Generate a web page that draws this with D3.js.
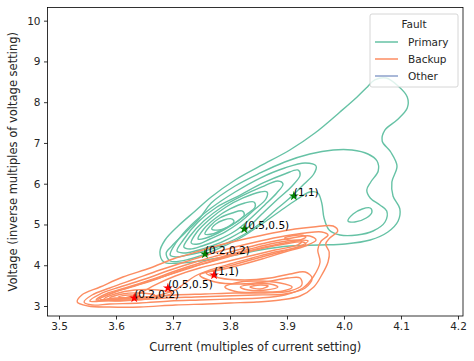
<!DOCTYPE html>
<html><head><meta charset="utf-8">
<script src="https://cdn.jsdelivr.net/npm/d3@7"></script>
<style>body{margin:0;background:#fff}svg{display:block;font-family:"DejaVu Sans",sans-serif}</style>
</head><body><svg id="c" width="474" height="361"></svg>
<script>
// ---- data ----
const xTicks = [3.5,3.6,3.7,3.8,3.9,4.0,4.1,4.2];
const yTicks = [3,4,5,6,7,8,9,10];
const xLabel = "Current (multiples of current setting)";
const yLabel = "Voltage (inverse multiples of voltage setting)";
const legendTitle = "Fault";
const legendNames = ["Primary","Backup","Other"];
const legendColors = ["#66c2a5","#fc8d62","#8da0cb"];

// Primary (green) KDE iso-lines, [current, voltage]
const primaryContours = [
 [[3.677,4.325],[3.684,4.080],[3.712,4.055],[3.747,4.104],[3.800,4.227],[3.853,4.374],[3.905,4.472],[3.958,4.497],[4.002,4.521],[4.046,4.619],[4.077,4.815],[4.095,5.085],[4.098,5.380],[4.086,5.699],[4.084,6.042],[4.093,6.435],[4.082,6.778],[4.067,7.048],[4.072,7.318],[4.093,7.563],[4.111,7.858],[4.111,8.128],[4.095,8.397],[4.074,8.594],[4.054,8.545],[4.039,8.348],[4.023,8.128],[3.993,7.760],[3.949,7.244],[3.905,6.827],[3.853,6.435],[3.809,6.091],[3.767,5.674],[3.739,5.331],[3.709,4.963],[3.686,4.619]],
 [[3.688,4.300],[3.695,4.104],[3.730,4.153],[3.774,4.374],[3.818,4.668],[3.856,5.012],[3.888,5.331],[3.916,5.601],[3.940,5.797],[3.954,5.772],[3.961,5.527],[3.965,5.159],[3.974,4.865],[3.993,4.742],[4.023,4.742],[4.051,4.840],[4.072,5.061],[4.075,5.331],[4.063,5.478],[4.046,5.650],[4.040,5.846],[4.047,6.042],[4.060,6.312],[4.058,6.557],[4.042,6.729],[4.014,6.827],[3.981,6.827],[3.940,6.729],[3.896,6.533],[3.853,6.263],[3.809,5.944],[3.767,5.527],[3.747,5.159],[3.721,4.791],[3.698,4.472]],
 [[4.007,5.085],[4.016,5.257],[4.032,5.380],[4.046,5.404],[4.049,5.306],[4.039,5.159],[4.019,5.061]],
 [[3.695,4.251],[3.705,4.546],[3.732,4.987],[3.767,5.404],[3.809,5.797],[3.853,6.140],[3.896,6.386],[3.932,6.508],[3.951,6.435],[3.947,6.238],[3.930,5.993],[3.909,5.699],[3.884,5.404],[3.856,5.061],[3.826,4.766],[3.791,4.521],[3.756,4.349],[3.726,4.251],[3.705,4.202]],
 [[3.707,4.349],[3.718,4.619],[3.744,5.061],[3.777,5.429],[3.818,5.723],[3.858,6.018],[3.896,6.238],[3.919,6.337],[3.923,6.214],[3.909,5.944],[3.884,5.625],[3.856,5.257],[3.832,4.938],[3.800,4.668],[3.768,4.472],[3.739,4.349],[3.718,4.300]],
 [[3.719,4.447],[3.730,4.717],[3.754,5.085],[3.786,5.429],[3.821,5.699],[3.856,5.920],[3.884,6.067],[3.893,5.993],[3.882,5.772],[3.861,5.478],[3.835,5.134],[3.809,4.840],[3.779,4.619],[3.751,4.472],[3.730,4.398]],
 [[3.732,4.546],[3.742,4.815],[3.765,5.134],[3.793,5.429],[3.823,5.650],[3.853,5.797],[3.865,5.797],[3.863,5.625],[3.844,5.380],[3.818,5.061],[3.791,4.815],[3.765,4.644],[3.744,4.521]],
 [[3.744,4.644],[3.754,4.889],[3.775,5.159],[3.800,5.380],[3.826,5.527],[3.842,5.552],[3.844,5.429],[3.828,5.233],[3.804,4.987],[3.779,4.791],[3.758,4.668]],
 [[3.756,4.766],[3.765,4.963],[3.782,5.159],[3.804,5.282],[3.821,5.331],[3.825,5.233],[3.811,5.061],[3.789,4.889],[3.768,4.766]],
 [[3.768,4.889],[3.775,5.012],[3.789,5.110],[3.804,5.134],[3.807,5.061],[3.796,4.938],[3.781,4.865]]
];

// Backup (orange) KDE iso-lines, [current, voltage]
const backupContours = [
 [[3.532,3.098],[3.540,3.270],[3.572,3.466],[3.612,3.711],[3.660,3.932],[3.700,4.153],[3.747,4.349],[3.782,4.497],[3.826,4.644],[3.875,4.791],[3.914,4.889],[3.946,4.938],[3.981,4.963],[3.989,4.840],[3.975,4.668],[3.968,4.521],[3.974,4.325],[3.972,4.080],[3.961,3.761],[3.947,3.466],[3.923,3.245],[3.888,3.147],[3.847,3.098],[3.800,3.074],[3.760,3.049],[3.704,3.025],[3.642,2.975],[3.589,2.975],[3.551,3.000]],
 [[3.544,3.098],[3.558,3.270],[3.589,3.442],[3.633,3.662],[3.677,3.883],[3.721,4.080],[3.765,4.276],[3.809,4.447],[3.853,4.595],[3.896,4.717],[3.932,4.791],[3.961,4.815],[3.972,4.742],[3.960,4.595],[3.954,4.374],[3.958,4.080],[3.947,3.736],[3.928,3.442],[3.896,3.270],[3.853,3.196],[3.800,3.172],[3.747,3.147],[3.695,3.123],[3.642,3.074],[3.589,3.049],[3.558,3.025]],
 [[3.554,3.123],[3.572,3.294],[3.607,3.466],[3.651,3.662],[3.695,3.883],[3.739,4.080],[3.782,4.251],[3.826,4.423],[3.870,4.570],[3.909,4.668],[3.940,4.717],[3.951,4.619],[3.932,4.472],[3.896,4.325],[3.856,4.153],[3.818,4.006],[3.782,3.883],[3.758,3.810],[3.782,3.687],[3.826,3.638],[3.870,3.687],[3.905,3.785],[3.932,3.834],[3.944,3.687],[3.932,3.442],[3.896,3.294],[3.844,3.270],[3.791,3.245],[3.739,3.221],[3.686,3.196],[3.633,3.147],[3.581,3.123]],
 [[3.565,3.147],[3.586,3.319],[3.616,3.442],[3.660,3.638],[3.704,3.859],[3.747,4.055],[3.791,4.227],[3.835,4.398],[3.879,4.546],[3.918,4.619],[3.937,4.595],[3.923,4.472],[3.888,4.325],[3.849,4.178],[3.811,4.030],[3.774,3.883],[3.747,3.761],[3.774,3.589],[3.818,3.540],[3.861,3.589],[3.902,3.687],[3.923,3.687],[3.926,3.515],[3.905,3.368],[3.861,3.319],[3.809,3.319],[3.756,3.294],[3.704,3.270],[3.651,3.221],[3.598,3.196]],
 [[3.568,3.147],[3.593,3.319],[3.633,3.491],[3.677,3.687],[3.721,3.908],[3.765,4.080],[3.809,4.251],[3.853,4.398],[3.896,4.521],[3.928,4.570],[3.933,4.521],[3.916,4.423],[3.879,4.325],[3.839,4.178],[3.800,4.030],[3.765,3.883],[3.739,3.736],[3.721,3.564],[3.704,3.393],[3.677,3.270],[3.642,3.196],[3.604,3.172]],
 [[3.572,3.172],[3.598,3.343],[3.642,3.540],[3.686,3.736],[3.730,3.932],[3.774,4.129],[3.818,4.300],[3.861,4.447],[3.905,4.570],[3.926,4.595],[3.919,4.497],[3.879,4.374],[3.835,4.227],[3.791,4.080],[3.747,3.932],[3.704,3.736],[3.668,3.515],[3.642,3.319],[3.616,3.196],[3.589,3.147]],
 [[3.579,3.172],[3.598,3.294],[3.633,3.393],[3.674,3.393],[3.698,3.319],[3.677,3.221],[3.633,3.147],[3.598,3.123]],
 [[3.589,3.196],[3.611,3.294],[3.642,3.319],[3.668,3.270],[3.651,3.196],[3.616,3.172]],
 [[3.604,3.221],[3.621,3.270],[3.642,3.245],[3.625,3.196]],
 [[3.791,3.466],[3.818,3.589],[3.853,3.613],[3.888,3.564],[3.909,3.466],[3.893,3.368],[3.853,3.343],[3.814,3.343]],
 [[3.818,3.466],[3.844,3.540],[3.870,3.540],[3.884,3.466],[3.863,3.393],[3.832,3.393]],
 [[3.835,3.466],[3.853,3.515],[3.867,3.491],[3.853,3.417]],
 [[3.896,4.668],[3.923,4.742],[3.933,4.693],[3.914,4.595]]
];

// annotated operating points
const primaryPoints = [[3.756,4.276],[3.825,4.889],[3.912,5.699]];
const backupPoints  = [[3.632,3.196],[3.691,3.442],[3.772,3.761]];
const pointLabels   = ["(0.2,0.2)","(0.5,0.5)","(1,1)"];

// ---- drawing ----
const svg = d3.select("#c");
const m = {l:47.5, r:463, t:7.5, b:316};
const x = d3.scaleLinear().domain([3.4798,4.2088]).range([m.l,m.r]);
const y = d3.scaleLinear().domain([2.7547,10.323]).range([m.b,m.t]);

svg.append("clipPath").attr("id","pc").append("rect")
  .attr("x",m.l).attr("y",m.t).attr("width",m.r-m.l).attr("height",m.b-m.t);
const plot = svg.append("g").attr("clip-path","url(#pc)");
const line = d3.line().x(d=>x(d[0])).y(d=>y(d[1])).curve(d3.curveCatmullRomClosed.alpha(0.5));

plot.append("g").selectAll("path").data(primaryContours).join("path")
  .attr("d",line).attr("fill","none").attr("stroke",legendColors[0]).attr("stroke-width",1.4);
plot.append("g").selectAll("path").data(backupContours).join("path")
  .attr("d",line).attr("fill","none").attr("stroke",legendColors[1]).attr("stroke-width",1.4);

const star = d3.symbol().type(d3.symbolStar).size(30);
function pts(data,color){
  plot.append("g").selectAll("path").data(data).join("path")
    .attr("d",star).attr("transform",d=>`translate(${x(d[0])},${y(d[1])})`).attr("fill",color);
  plot.append("g").selectAll("text").data(data).join("text")
    .attr("x",d=>x(d[0])).attr("y",d=>y(d[1])).attr("font-size",10.5).attr("fill","#000")
    .text((d,i)=>pointLabels[i]);
}
pts(primaryPoints,"#008000");
pts(backupPoints,"#ff0000");

// axes
const xa = svg.append("g").attr("transform",`translate(0,${m.b})`)
  .call(d3.axisBottom(x).tickValues(xTicks).tickFormat(d3.format(".1f")).tickSize(3.5).tickPadding(3.5));
const ya = svg.append("g").attr("transform",`translate(${m.l},0)`)
  .call(d3.axisLeft(y).tickValues(yTicks).tickFormat(d3.format("d")).tickSize(3.5).tickPadding(3.5));
[xa,ya].forEach(a=>{a.select(".domain").remove();
  a.selectAll("text").attr("font-size",10.5).attr("fill","#262626").attr("font-family","DejaVu Sans");
  a.selectAll("line").attr("stroke","#000").attr("stroke-width",0.8);});
svg.append("rect").attr("x",m.l).attr("y",m.t).attr("width",m.r-m.l).attr("height",m.b-m.t)
  .attr("fill","none").attr("stroke","#000").attr("stroke-width",0.8);

svg.append("text").attr("x",(m.l+m.r)/2).attr("y",351).attr("text-anchor","middle")
  .attr("font-size",11.5).attr("fill","#262626").text(xLabel);
svg.append("text").attr("transform",`translate(17,${(m.t+m.b)/2}) rotate(-90)`).attr("text-anchor","middle")
  .attr("font-size",11.5).attr("fill","#262626").text(yLabel);

// legend
const lg = svg.append("g");
lg.append("rect").attr("x",370).attr("y",14).attr("width",88).attr("height",73).attr("rx",2)
  .attr("fill","#fff").attr("fill-opacity",0.8).attr("stroke","#ccc").attr("stroke-width",0.8);
lg.append("text").attr("x",414).attr("y",28).attr("text-anchor","middle").attr("font-size",10.5).attr("fill","#262626").text(legendTitle);
legendNames.forEach((n,i)=>{
  const yy = 42 + i*17;
  lg.append("line").attr("x1",375).attr("x2",398).attr("y1",yy).attr("y2",yy)
    .attr("stroke",legendColors[i]).attr("stroke-width",1.5);
  lg.append("text").attr("x",408).attr("y",yy+4).attr("font-size",10.5).attr("fill","#262626").text(n);
});
</script></body></html>
